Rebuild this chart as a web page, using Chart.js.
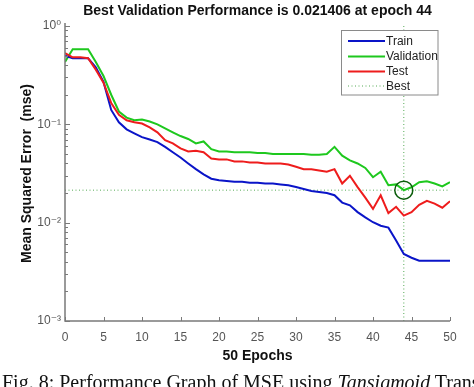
<!DOCTYPE html>
<html>
<head>
<meta charset="utf-8">
<script src="https://cdn.jsdelivr.net/npm/chart.js@4/dist/chart.umd.min.js"></script>
<style>
  html, body { margin:0; padding:0; background:#fff; width:474px; height:387px; overflow:hidden; }
  #wrap { position:relative; width:474px; height:387px; overflow:hidden; }
  canvas { position:absolute; left:0; top:0; }
  #caption { position:absolute; left:2px; top:372px; white-space:nowrap; font-family:"Liberation Serif","Times New Roman",serif; font-size:20px; line-height:20px; color:#111; }
</style>
</head>
<body>
<div id="wrap">
<canvas id="c" width="474" height="387"></canvas>
<div id="caption">Fig. 8: Performance Graph of MSE using <i>Tansigmoid</i> Transfer Function</div>
</div>
<script>
const epochs = [0,1,2,3,4,5,6,7,8,9,10,11,12,13,14,15,16,17,18,19,20,21,22,23,24,25,26,27,28,29,30,31,32,33,34,35,36,37,38,39,40,41,42,43,44,45,46,47,48,49,50];
const trainMse = [0.50,0.47,0.47,0.47,0.38,0.27,0.14,0.105,0.089,0.081,0.074,0.070,0.066,0.059,0.052,0.046,0.040,0.035,0.031,0.028,0.027,0.0265,0.026,0.026,0.0255,0.0255,0.025,0.025,0.0245,0.024,0.023,0.022,0.021,0.0205,0.020,0.019,0.016,0.015,0.0128,0.0113,0.0101,0.0093,0.0089,0.0066,0.0048,0.0044,0.0041,0.0041,0.0041,0.0041,0.0041];
const validationMse = [0.43,0.58,0.58,0.58,0.43,0.31,0.20,0.135,0.117,0.110,0.112,0.107,0.100,0.091,0.083,0.076,0.071,0.064,0.067,0.056,0.053,0.053,0.052,0.052,0.052,0.051,0.051,0.050,0.050,0.050,0.050,0.050,0.049,0.049,0.050,0.059,0.048,0.043,0.040,0.036,0.029,0.033,0.024,0.0245,0.021406,0.0229,0.0258,0.0263,0.025,0.0234,0.0258];
const testMse = [0.53,0.48,0.48,0.47,0.36,0.265,0.165,0.125,0.110,0.105,0.102,0.093,0.083,0.069,0.064,0.057,0.053,0.054,0.052,0.045,0.044,0.044,0.042,0.042,0.041,0.041,0.040,0.040,0.040,0.039,0.037,0.035,0.035,0.034,0.033,0.035,0.025,0.030,0.023,0.018,0.0138,0.019,0.0125,0.0145,0.0118,0.0128,0.0152,0.0167,0.0156,0.0142,0.0165];
const bestEpoch = 44;
const bestValue = 0.021406;
const xRange = [0, 50];
const yRange = [0.001, 1];
const xTickValues = [0,5,10,15,20,25,30,35,40,45,50];
const yTickValues = [0.001,0.01,0.1,1];
const yTickLabels = ['10\u207B\u00B3','10\u207B\u00B2','10\u207B\u00B9','10\u2070'];
const legendLabels = ['Train','Validation','Test','Best'];
const titleText = 'Best Validation Performance is 0.021406 at epoch 44';
const xTitle = '50 Epochs';
const yTitle = 'Mean Squared Error  (mse)';

const COLORS = { train:'#0a14c8', val:'#1ec81e', test:'#ee1c1c', best:'#55aa55', circle:'#0b5d0b', axis:'#7a7a7a' };

const pts = arr => epochs.map((e,i)=>({x:e, y:arr[i]}));

const decorPlugin = {
  id:'decor',
  afterDatasetsDraw(chart){
    const {ctx, chartArea:a, scales:{x, y}} = chart;
    ctx.save();
    ctx.strokeStyle = COLORS.axis; ctx.lineWidth = 1.5;
    ctx.beginPath();
    ctx.moveTo(a.left, y.getPixelForValue(yRange[1]) - 3);
    ctx.lineTo(a.left, a.bottom);
    ctx.lineTo(a.right, a.bottom);
    ctx.stroke();
    ctx.lineWidth = 1;
    xTickValues.forEach(v=>{
      const px = Math.round(x.getPixelForValue(v))+0.5;
      ctx.beginPath(); ctx.moveTo(px, a.bottom); ctx.lineTo(px, a.bottom-4); ctx.stroke();
    });
    for (let d=-3; d<=0; d++){
      const base = Math.pow(10,d);
      const py = Math.round(y.getPixelForValue(base))+0.5;
      ctx.beginPath(); ctx.moveTo(a.left, py); ctx.lineTo(a.left+5, py); ctx.stroke();
      if (d<0){
        for (let m=2; m<=9; m++){
          const pm = Math.round(y.getPixelForValue(base*m))+0.5;
          ctx.beginPath(); ctx.moveTo(a.left, pm); ctx.lineTo(a.left+3, pm); ctx.stroke();
        }
      }
    }
    ctx.fillStyle = '#111';
    ctx.font = 'bold 14px "Liberation Sans", Arial, sans-serif';
    ctx.textAlign = 'center'; ctx.textBaseline = 'middle';
    ctx.fillText(titleText, (a.left+a.right)/2, 11);
    const lx = 341.5, ly = 30.5, lw = 96.5, lh = 64.5;
    ctx.fillStyle = '#fff'; ctx.fillRect(lx, ly, lw, lh);
    ctx.strokeStyle = '#8a8a8a'; ctx.lineWidth = 1; ctx.strokeRect(lx, ly, lw, lh);
    const rows = [41, 56.5, 71.5, 86];
    const lc = [COLORS.train, COLORS.val, COLORS.test, COLORS.best];
    ctx.font = '12px "Liberation Sans", Arial, sans-serif';
    ctx.textAlign = 'left';
    legendLabels.forEach((lab,i)=>{
      ctx.strokeStyle = lc[i];
      if (i===3){ ctx.lineWidth = 1; ctx.setLineDash([1,2.5]); } else { ctx.lineWidth = 2; ctx.setLineDash([]); }
      ctx.beginPath(); ctx.moveTo(348, rows[i]); ctx.lineTo(385, rows[i]); ctx.stroke();
      ctx.setLineDash([]);
      ctx.fillStyle = '#222';
      ctx.fillText(lab, 386, rows[i]+0.5);
    });
    ctx.restore();
  }
};

new Chart(document.getElementById('c'), {
  type:'line',
  data:{
    datasets:[
      { label:'Best circle', data:[{x:bestEpoch, y:bestValue}], showLine:false, pointRadius:9, pointBorderWidth:1.5, pointBorderColor:COLORS.circle, pointBackgroundColor:'rgba(0,0,0,0)', order:0 },
      { label:'Test', data:pts(testMse), borderColor:COLORS.test, borderWidth:2, pointRadius:0, fill:false, tension:0, order:1 },
      { label:'Train', data:pts(trainMse), borderColor:COLORS.train, borderWidth:2, pointRadius:0, fill:false, tension:0, order:2 },
      { label:'Validation', data:pts(validationMse), borderColor:COLORS.val, borderWidth:2, pointRadius:0, fill:false, tension:0, order:3 },
      { label:'Best H', data:[{x:xRange[0], y:bestValue},{x:xRange[1], y:bestValue}], borderColor:COLORS.best, borderWidth:1, borderDash:[1,2.5], pointRadius:0, order:4 },
      { label:'Best V', data:[{x:bestEpoch, y:yRange[0]},{x:bestEpoch, y:yRange[1]*1.04}], borderColor:COLORS.best, borderWidth:1, borderDash:[1,2.5], pointRadius:0, order:4 }
    ]
  },
  options:{
    responsive:false, animation:false, devicePixelRatio:1,
    layout:{ padding:{ left:0, top:26, right:24, bottom:0 } },
    plugins:{ legend:{display:false}, tooltip:{enabled:false}, title:{display:false} },
    scales:{
      x:{
        type:'linear', min:xRange[0], max:xRange[1],
        grid:{ display:false, drawTicks:false }, border:{ display:false },
        afterBuildTicks: s => { s.ticks = xTickValues.map(v=>({value:v})); },
        ticks:{ color:'#555', padding:9, font:{ size:12, family:'"Liberation Sans", Arial, sans-serif' }, maxRotation:0 },
        title:{ display:true, text:xTitle, color:'#111', font:{ size:14, weight:'bold', family:'"Liberation Sans", Arial, sans-serif' }, padding:{ top:0, bottom:22 } },
        afterFit: s => { s.height = 66; }
      },
      y:{
        type:'logarithmic', min:yRange[0], max:yRange[1],
        grid:{ display:false, drawTicks:false }, border:{ display:false },
        afterBuildTicks: s => { s.ticks = yTickValues.map(v=>({value:v})); },
        ticks:{ color:'#555', padding:4, font:{ size:12, family:'"Liberation Sans", "DejaVu Sans", Arial, sans-serif' },
          callback: (v) => { const i = yTickValues.findIndex(t=>Math.abs(t-v)/t<1e-6); return i>=0 ? yTickLabels[i] : ''; } },
        title:{ display:true, text:yTitle, color:'#111', font:{ size:14, weight:'bold', family:'"Liberation Sans", Arial, sans-serif' }, padding:{ top:19, bottom:0 } },
        afterFit: s => { s.width = 65; }
      }
    }
  },
  plugins:[decorPlugin]
});
</script>
</body>
</html>
